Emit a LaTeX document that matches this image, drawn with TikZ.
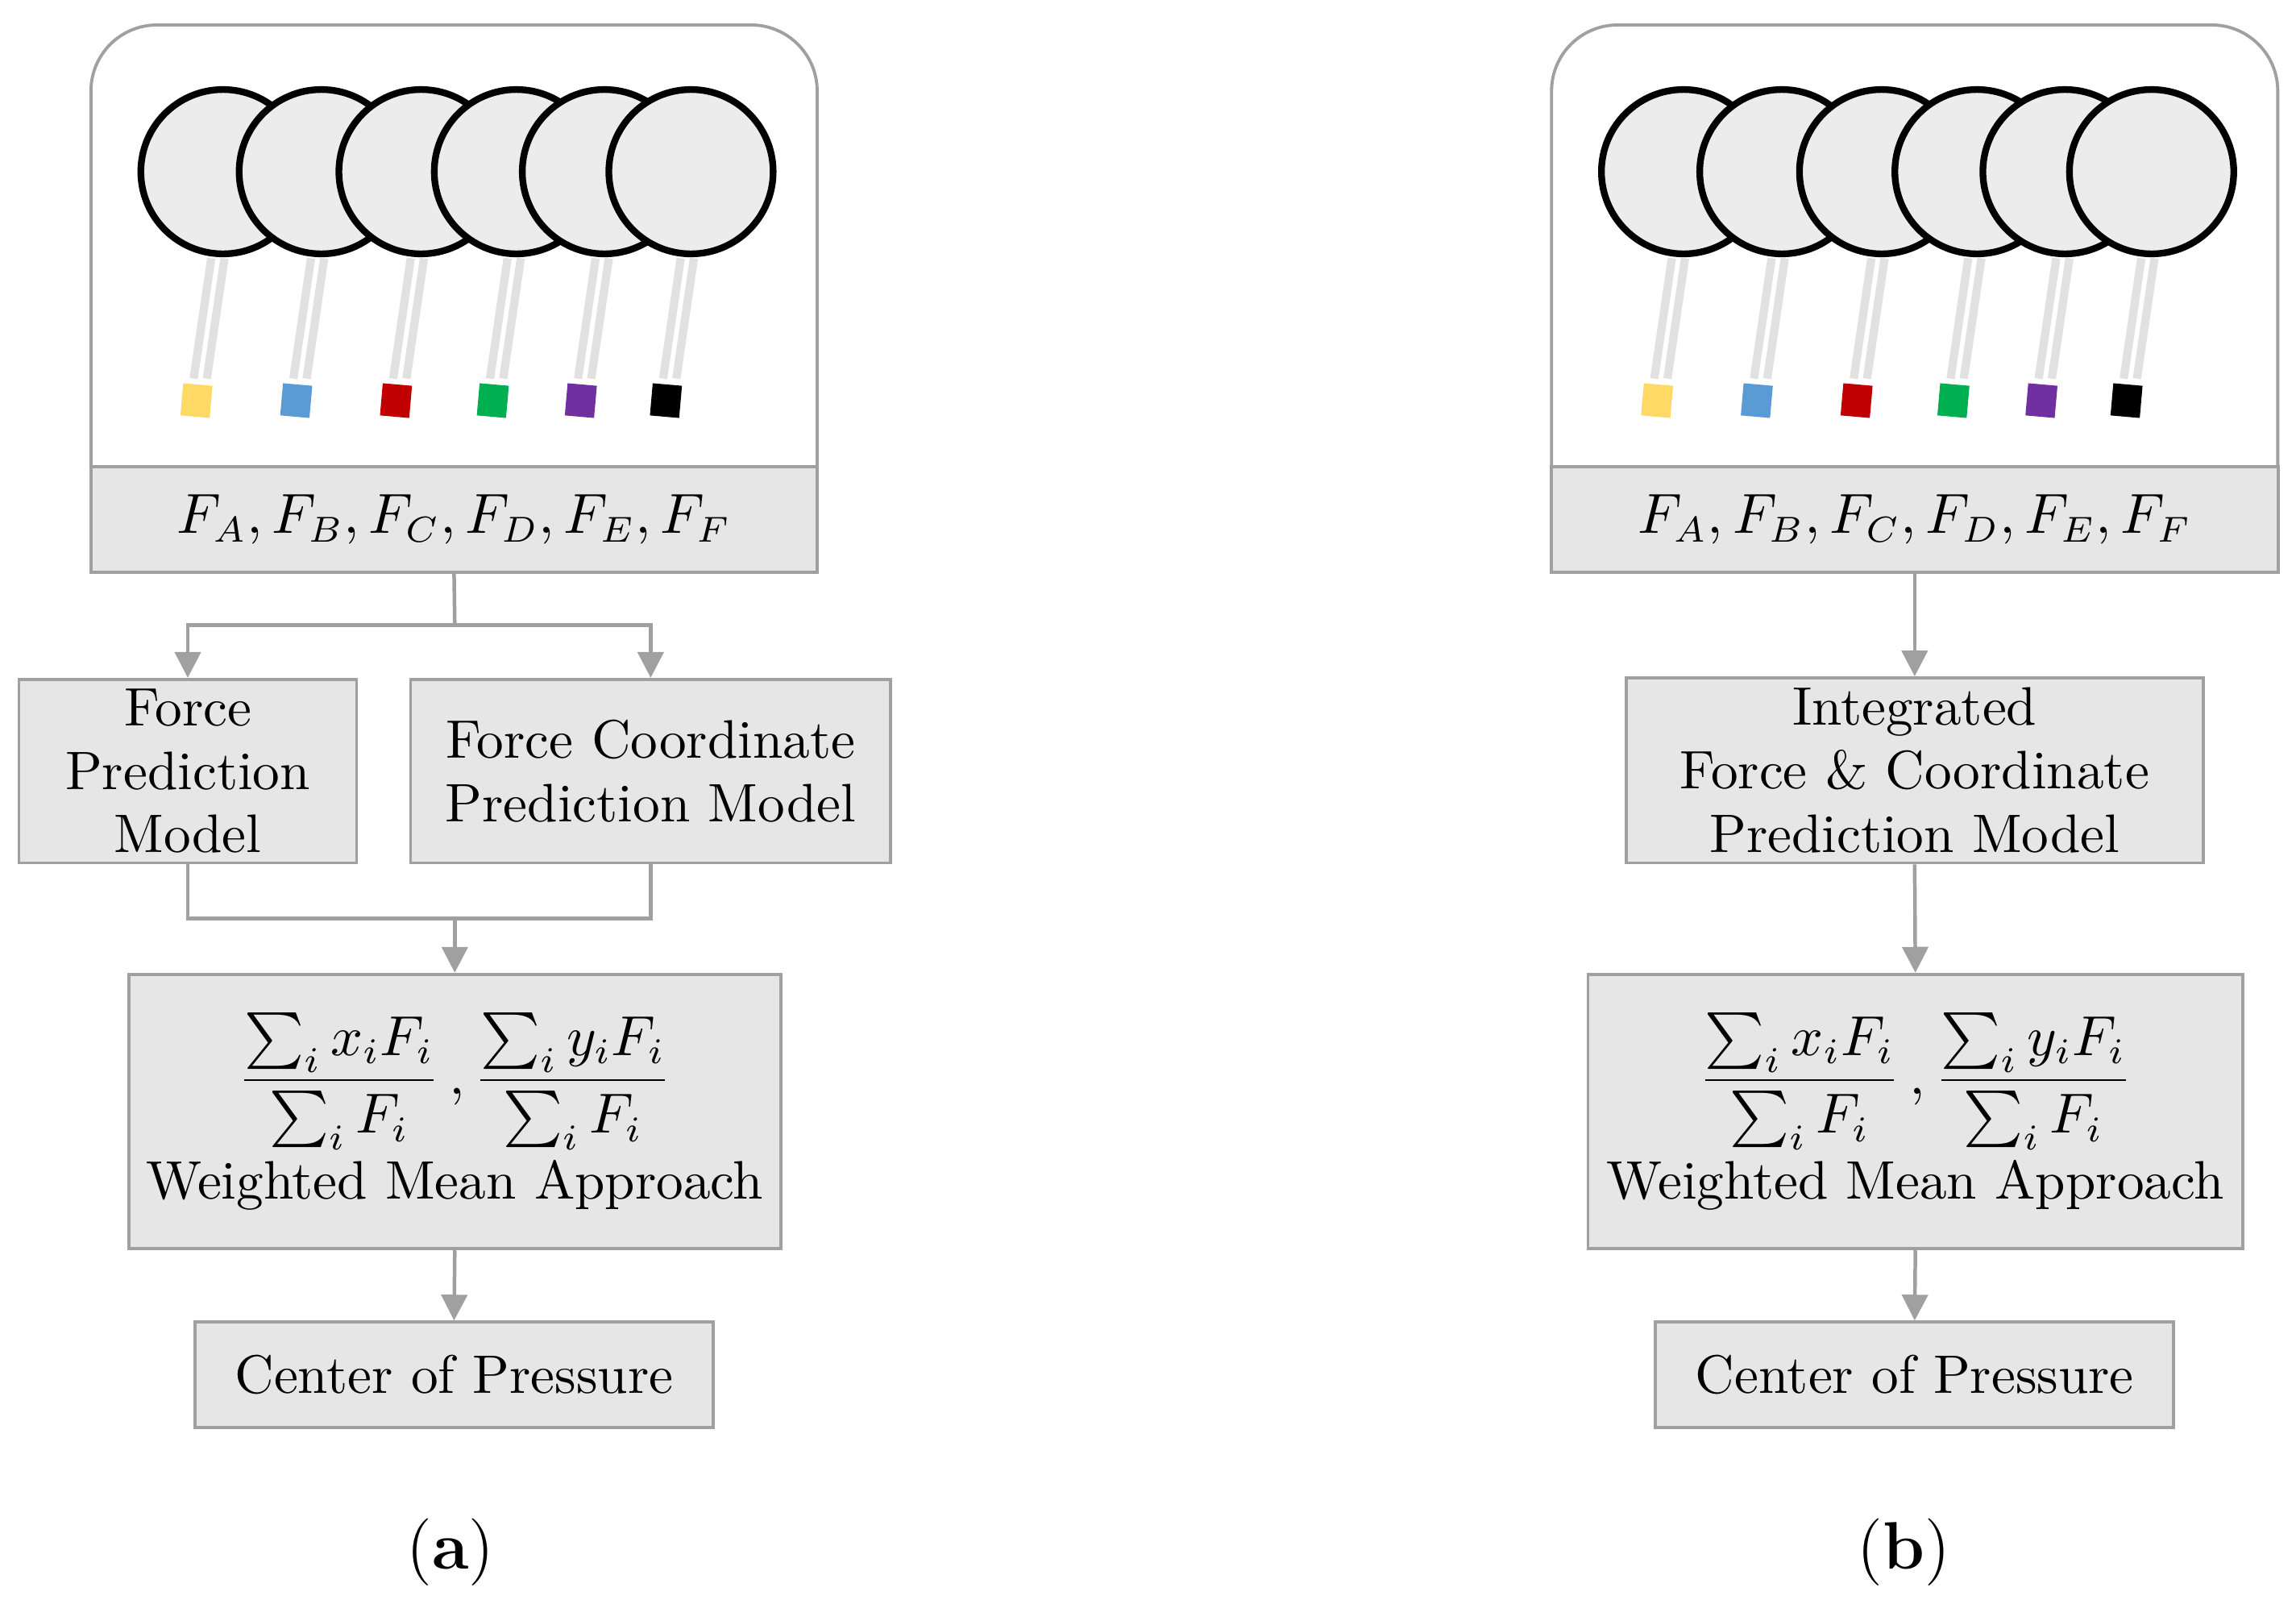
\documentclass[tikz,border=0pt]{standalone}
\usepackage{amsmath}
\usetikzlibrary{arrows.meta}
\definecolor{boxg}{RGB}{230,230,230}
\definecolor{edg}{RGB}{160,160,160}
\definecolor{circf}{RGB}{236,236,236}
\definecolor{leadc}{RGB}{225,225,225}
\tikzset{
 bx/.style={draw=edg,fill=boxg,line width=0.6pt,align=center,inner sep=0pt,font=\fontsize{10.5}{12.3}\selectfont},
 arr/.style={draw=edg,line width=0.7pt,-{Triangle[length=5pt,width=5pt]}},
 ln/.style={draw=edg,line width=0.7pt},
 sens/.style={draw=black,line width=1.3pt,fill=circf},
 lead/.style={draw=leadc,line width=1.6pt}
}
\newcommand{\sensorpanel}[1]{%
 \draw[draw=edg,fill=white,line width=0.6pt] (62,318) -- (62,62) arc[start angle=180,end angle=270,radius=45] -- (512,17) arc[start angle=270,end angle=360,radius=45] -- (557,318) -- cycle;
 \foreach \c/\col [count=\i] in {134/sy,202/sb,270/sr,336/sg,396/sp,454/sk}{
   \draw[lead] (\c+10,176) -- (\c-2,258);
   \draw[lead] (\c+19,176) -- (\c+7,258);
   \fill[\col,rotate around={-5:(\c,272)}] (\c-10,262) rectangle (\c+10,284);
 }
 \foreach \x [count=\i] in {152,219,287,352,412,471}{
   \draw[sens] (\x,117) circle[radius=56];
 }
 \node[bx,minimum width=4.95cm,minimum height=0.72cm] (#1strip) at (309.5,354) {$F_A,F_B,F_C,F_D,F_E,F_F$};
}
\definecolor{sy}{RGB}{255,217,102}
\definecolor{sb}{RGB}{91,155,213}
\definecolor{sr}{RGB}{192,0,0}
\definecolor{sg}{RGB}{0,176,80}
\definecolor{sp}{RGB}{112,48,160}
\definecolor{sk}{RGB}{0,0,0}
\begin{document}
\begin{tikzpicture}[x=0.01cm,y=-0.01cm]
\useasboundingbox (0,0) rectangle (1565,1090);
\newcommand{\wm}{$\dfrac{\sum_i x_iF_i}{\sum_i F_i}\,,\dfrac{\sum_i y_iF_i}{\sum_i F_i}$\\[1pt]Weighted Mean Approach}
% panel a
\begin{scope}
\sensorpanel{a}
\node[bx,minimum width=2.30cm,minimum height=1.25cm] (afp) at (128,525.5) {Force\\Prediction\\Model};
\node[bx,minimum width=3.27cm,minimum height=1.25cm] (afc) at (443.5,525.5) {Force Coordinate\\Prediction Model};
\node[bx,minimum width=4.44cm,minimum height=1.87cm] (awm) at (310,757.5) {\wm};
\node[bx,minimum width=3.53cm,minimum height=0.72cm] (acp) at (309.5,937) {Center of Pressure};
\coordinate (aj1) at (310,426);
\coordinate (aj2) at (310,626);
\draw[ln] (astrip.south) -- (aj1);
\draw[arr] (aj1) -| (afp.north);
\draw[arr] (aj1) -| (afc.north);
\draw[ln] (afp.south) |- (aj2);
\draw[ln] (afc.south) |- (aj2);
\draw[arr] (aj2) -- (awm.north);
\draw[arr] (awm.south) -- (acp.north);
\node[font=\fontsize{13}{15}\selectfont] (capa) at (307,1058) {(\textbf{a})};
\end{scope}
% panel b
\begin{scope}[xshift=9.95cm]
\sensorpanel{b}
\node[bx,minimum width=3.93cm,minimum height=1.26cm] (bif) at (309.5,525) {Integrated\\Force \& Coordinate\\Prediction Model};
\node[bx,minimum width=4.46cm,minimum height=1.87cm] (bwm) at (310,757.5) {\wm};
\node[bx,minimum width=3.53cm,minimum height=0.72cm] (bcp) at (309.5,937) {Center of Pressure};
\draw[arr] (bstrip.south) -- (bif.north);
\draw[arr] (bif.south) -- (bwm.north);
\draw[arr] (bwm.south) -- (bcp.north);
\node[font=\fontsize{13}{15}\selectfont] (capb) at (302,1058) {(\textbf{b})};
\end{scope}
\end{tikzpicture}
\end{document}
